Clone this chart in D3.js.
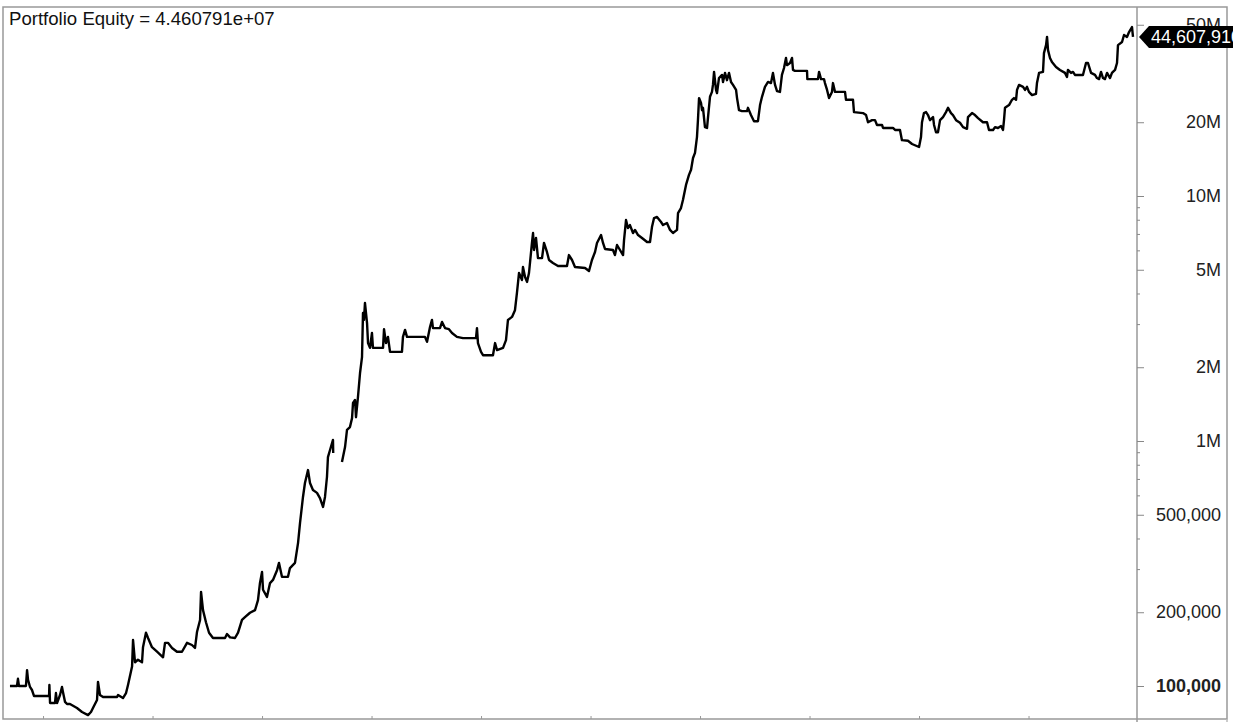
<!DOCTYPE html>
<html>
<head>
<meta charset="utf-8">
<script src="https://cdn.jsdelivr.net/npm/d3@7"></script>
<style>
  body { margin: 0; background: #fff; }
  text { font-family: "Liberation Sans", Arial, sans-serif; }
</style>
</head>
<body>
<script>
// equity curve: [decimal year, equity $]
var early = [
  [2009.698, 100000], [2009.762, 100000], [2009.771, 107000], [2009.780, 100000], [2009.844, 100000],
  [2009.854, 116000], [2009.863, 106000], [2009.881, 99100], [2009.899, 96300], [2009.918, 91000],
  [2010.055, 91000], [2010.058, 101000], [2010.064, 85200], [2010.109, 85200], [2010.118, 93600],
  [2010.128, 85200], [2010.155, 91900], [2010.173, 99100], [2010.182, 94500], [2010.201, 86100],
  [2010.219, 84400], [2010.246, 84400], [2010.310, 81300], [2010.356, 78300], [2010.411, 76100],
  [2010.438, 78300], [2010.456, 81300], [2010.493, 87700], [2010.502, 104000], [2010.520, 91900],
  [2010.548, 90200], [2010.676, 90200], [2010.685, 91900], [2010.730, 89300], [2010.758, 93600],
  [2010.776, 101000], [2010.813, 120000], [2010.822, 154000], [2010.840, 125000], [2010.867, 128000],
  [2010.904, 125000], [2010.913, 144000], [2010.940, 165000], [2010.959, 157000], [2010.995, 144000],
  [2011.041, 138000], [2011.096, 131000], [2011.114, 150000], [2011.141, 150000], [2011.178, 143000],
  [2011.223, 138000], [2011.269, 138000], [2011.315, 150000], [2011.360, 147000], [2011.388, 143000],
  [2011.406, 166000], [2011.434, 186000], [2011.443, 242000], [2011.461, 204000], [2011.488, 182000],
  [2011.516, 165000], [2011.552, 157000], [2011.662, 157000], [2011.680, 163000], [2011.708, 158000],
  [2011.753, 157000], [2011.781, 165000], [2011.817, 186000], [2011.844, 191000], [2011.890, 199000],
  [2011.936, 204000], [2011.963, 224000]
];

var breakout = [
  [2011.981, 263000], [2012.000, 292000], [2012.009, 247000], [2012.045, 231000], [2012.073, 263000],
  [2012.100, 271000], [2012.137, 297000], [2012.155, 318000], [2012.182, 279000], [2012.237, 279000],
  [2012.255, 303000], [2012.301, 318000], [2012.329, 384000], [2012.347, 463000], [2012.374, 591000],
  [2012.392, 674000], [2012.420, 761000], [2012.438, 674000], [2012.465, 631000], [2012.502, 614000],
  [2012.529, 585000], [2012.557, 538000], [2012.575, 591000], [2012.593, 713000], [2012.602, 860000],
  [2012.621, 919000], [2012.648, 1010000], [2012.650, 893000], [2012.690, null],
  [2012.730, 821000], [2012.758, 945000], [2012.776, 1110000], [2012.803, 1140000], [2012.822, 1240000],
  [2012.831, 1430000], [2012.849, 1470000], [2012.858, 1250000], [2012.876, 1510000], [2012.895, 1895000],
  [2012.913, 2200000], [2012.922, 3330000], [2012.931, 3120000], [2012.940, 3660000], [2012.959, 3030000],
  [2012.968, 2510000], [2012.986, 2400000], [2013.004, 2760000], [2013.013, 2400000]
];

var plateau = [
  [2013.105, 2400000], [2013.114, 2860000], [2013.132, 2510000], [2013.150, 2660000], [2013.169, 2310000],
  [2013.278, 2310000], [2013.287, 2660000], [2013.306, 2840000], [2013.324, 2660000], [2013.488, 2660000],
  [2013.507, 2540000], [2013.534, 2920000], [2013.552, 3120000], [2013.561, 2890000], [2013.625, 2890000],
  [2013.644, 3060000], [2013.671, 2890000], [2013.707, 2860000], [2013.735, 2760000], [2013.780, 2660000],
  [2013.835, 2630000], [2013.954, 2630000], [2013.963, 2890000], [2013.972, 2510000], [2014.000, 2310000],
  [2014.018, 2240000], [2014.109, 2240000], [2014.128, 2510000], [2014.146, 2350000], [2014.201, 2400000],
  [2014.228, 2580000], [2014.246, 3120000], [2014.283, 3210000], [2014.310, 3420000], [2014.328, 4020000],
  [2014.347, 4850000], [2014.374, 4540000], [2014.383, 5130000], [2014.402, 4670000], [2014.420, 4460000],
  [2014.438, 4850000], [2014.465, 6430000], [2014.475, 7060000], [2014.484, 6020000], [2014.502, 6740000],
  [2014.520, 5580000], [2014.557, 5580000], [2014.575, 6430000], [2014.602, 5910000], [2014.621, 5480000],
  [2014.657, 5330000], [2014.703, 5180000], [2014.785, 5180000], [2014.803, 5740000], [2014.831, 5480000],
  [2014.858, 5130000], [2014.950, 5080000], [2014.986, 4940000], [2015.013, 5480000], [2015.041, 5910000],
  [2015.059, 6430000], [2015.096, 6930000], [2015.114, 6430000], [2015.132, 6080000], [2015.205, 6020000],
  [2015.223, 5740000], [2015.242, 6310000], [2015.269, 6020000], [2015.297, 5740000], [2015.306, 6610000],
  [2015.324, 7980000], [2015.342, 7400000], [2015.360, 7610000], [2015.388, 7060000], [2015.406, 7270000],
  [2015.434, 6930000], [2015.470, 6740000], [2015.516, 6490000], [2015.543, 6490000], [2015.561, 7470000],
  [2015.580, 8130000], [2015.607, 8210000], [2015.644, 7830000], [2015.662, 7610000], [2015.698, 7760000],
  [2015.726, 7270000], [2015.753, 7060000], [2015.790, 7270000], [2015.799, 8520000], [2015.826, 8930000],
  [2015.844, 9630000]
];

var run = [
  [2015.872, 11100000], [2015.899, 12200000], [2015.918, 12800000], [2015.936, 14300000], [2015.954, 15000000],
  [2015.972, 17400000], [2015.981, 20400000], [2015.991, 25100000], [2016.009, 24000000], [2016.018, 22400000],
  [2016.027, 22900000], [2016.045, 19100000], [2016.064, 18950000], [2016.073, 21000000], [2016.091, 25400000],
  [2016.109, 26600000], [2016.118, 28400000], [2016.128, 32100000], [2016.146, 27100000], [2016.155, 26300000],
  [2016.173, 30300000], [2016.201, 31200000], [2016.210, 29200000], [2016.228, 31800000], [2016.246, 29700000],
  [2016.265, 31800000], [2016.283, 29200000], [2016.301, 28400000], [2016.329, 27100000], [2016.338, 25100000],
  [2016.356, 22400000], [2016.383, 22200000], [2016.429, 22200000], [2016.438, 22900000], [2016.465, 21400000],
  [2016.493, 20200000], [2016.529, 20200000], [2016.548, 23500000], [2016.566, 25400000], [2016.593, 27900000],
  [2016.621, 29200000], [2016.648, 28900000], [2016.666, 31800000], [2016.685, 28400000], [2016.703, 26800000],
  [2016.730, 26600000], [2016.748, 31200000], [2016.767, 33300000], [2016.785, 36600000], [2016.794, 34200000],
  [2016.822, 34900000], [2016.840, 36600000], [2016.849, 32700000], [2016.867, 32400000], [2016.977, 32400000],
  [2016.980, 30000000], [2017.077, 30000000], [2017.087, 32100000], [2017.105, 30000000], [2017.132, 30000000],
  [2017.141, 28900000], [2017.160, 27100000], [2017.178, 25100000], [2017.205, 26600000], [2017.214, 28900000],
  [2017.233, 26600000], [2017.324, 26600000], [2017.333, 24700000], [2017.397, 24700000], [2017.406, 22000000],
  [2017.488, 21800000], [2017.516, 21400000], [2017.534, 20000000], [2017.571, 20400000], [2017.598, 20400000],
  [2017.616, 19500000], [2017.662, 19500000], [2017.671, 18950000], [2017.762, 18950000], [2017.781, 18600000],
  [2017.826, 18600000], [2017.844, 16900000], [2017.899, 16800000], [2017.936, 16300000], [2018.000, 15850000]
];

var finish = [
  [2018.018, 17400000], [2018.027, 20000000], [2018.045, 21800000], [2018.064, 22000000], [2018.082, 21400000],
  [2018.100, 20400000], [2018.128, 21000000], [2018.137, 19500000], [2018.155, 18200000], [2018.173, 18200000],
  [2018.192, 20400000], [2018.219, 21000000], [2018.246, 22000000], [2018.265, 22900000], [2018.292, 21800000],
  [2018.310, 21400000], [2018.338, 20400000], [2018.374, 19900000], [2018.402, 19100000], [2018.438, 18800000],
  [2018.447, 21000000], [2018.484, 21800000], [2018.511, 21400000], [2018.539, 20800000], [2018.584, 20000000],
  [2018.621, 20000000], [2018.639, 18600000], [2018.676, 18600000], [2018.694, 19100000], [2018.721, 18950000],
  [2018.749, 19300000], [2018.767, 18600000], [2018.776, 20400000], [2018.785, 22900000], [2018.822, 23500000],
  [2018.849, 24700000], [2018.867, 25100000], [2018.886, 24700000], [2018.895, 27100000], [2018.913, 28400000],
  [2018.950, 27900000], [2018.968, 27100000], [2018.986, 27900000], [2019.004, 26600000], [2019.032, 25800000],
  [2019.068, 26100000], [2019.077, 28900000], [2019.096, 31800000], [2019.132, 32100000], [2019.141, 38300000],
  [2019.160, 41300000], [2019.169, 44600000], [2019.178, 39400000], [2019.196, 36600000], [2019.214, 35200000],
  [2019.251, 33600000], [2019.287, 32700000], [2019.333, 31800000], [2019.351, 30600000], [2019.360, 32700000],
  [2019.388, 31800000], [2019.406, 32100000], [2019.424, 31200000], [2019.497, 31200000], [2019.525, 34900000],
  [2019.543, 34900000], [2019.571, 31800000], [2019.607, 31200000], [2019.625, 30300000], [2019.644, 30000000],
  [2019.662, 32100000], [2019.680, 30300000], [2019.698, 30000000], [2019.717, 31800000], [2019.744, 30300000],
  [2019.762, 31800000], [2019.771, 32100000], [2019.790, 32700000], [2019.808, 34900000], [2019.817, 41300000],
  [2019.854, 42500000], [2019.872, 45400000], [2019.899, 44600000], [2019.918, 46700000], [2019.945, 48950000],
  [2019.954, 44607910]
];

var yearTicks = [2010, 2011, 2012, 2013, 2014, 2015, 2016, 2017, 2018, 2019];
var majorTicks = [100000, 200000, 500000, 1000000, 2000000, 5000000, 10000000, 20000000, 50000000];
var majorLabels = ['100,000', '200,000', '500,000', '1M', '2M', '5M', '10M', '20M', '50M'];

var equity = early.concat(breakout, plateau, run, finish);
var lastValue = equity[equity.length - 1][1];

var W = 1233, H = 722;
var plotL = 3, plotR = 1137, plotT = 7, plotB = 719, axisR = 1227;

var svg = d3.select('body').append('svg').attr('width', W).attr('height', H);
svg.append('rect').attr('width', W).attr('height', H).attr('fill', '#fff');

var x = d3.scaleLinear().domain([2009.607, 2019.9906]).range([0, plotR]);
var y = d3.scaleLog().domain([1e5, 1e7]).range([686, 196]);

// clip
svg.append('clipPath').attr('id', 'clip')
  .append('rect').attr('x', plotL).attr('y', plotT).attr('width', plotR - plotL).attr('height', plotB - plotT);

var line = d3.line()
  .defined(function(d) { return d[1] != null; })
  .x(function(d) { return x(d[0]); })
  .y(function(d) { return y(d[1]); });

svg.append('path')
  .datum(equity)
  .attr('clip-path', 'url(#clip)')
  .attr('d', line)
  .attr('fill', 'none')
  .attr('stroke', '#000')
  .attr('stroke-width', 2.4)
  .attr('stroke-linejoin', 'round');

// frame
svg.append('rect')
  .attr('x', plotL).attr('y', plotT)
  .attr('width', axisR - plotL).attr('height', plotB - plotT)
  .attr('fill', 'none').attr('stroke', '#999').attr('stroke-width', 1.5);
svg.append('line')
  .attr('x1', plotR).attr('x2', plotR).attr('y1', plotT).attr('y2', H)
  .attr('stroke', '#999').attr('stroke-width', 1.5);
svg.append('line')
  .attr('x1', axisR).attr('x2', axisR).attr('y1', plotB).attr('y2', H)
  .attr('stroke', '#bbb').attr('stroke-width', 1.5);

// x ticks (no labels)
var xAxis = svg.append('g').attr('transform', 'translate(0,' + plotB + ')')
  .call(d3.axisTop(x).tickValues(yearTicks).tickSize(3).tickFormat(''));
xAxis.select('.domain').remove();
xAxis.selectAll('line').attr('stroke', '#999');

// y ticks: minor then major
var minor = y.ticks().filter(function(v) {
  return majorTicks.indexOf(v) < 0 && y(v) > plotT && y(v) < plotB;
});
var yMinor = svg.append('g').attr('transform', 'translate(' + plotR + ',0)')
  .call(d3.axisRight(y).tickValues(minor).tickSize(3).tickFormat(''));
yMinor.select('.domain').remove();
yMinor.selectAll('line').attr('stroke', '#888');

var yMajor = svg.append('g').attr('transform', 'translate(' + plotR + ',0)')
  .call(d3.axisRight(y).tickValues(majorTicks).tickSize(7).tickFormat(''));
yMajor.select('.domain').remove();
yMajor.selectAll('line').attr('stroke', '#888');

svg.append('g').selectAll('text')
  .data(majorTicks)
  .enter().append('text')
  .attr('x', 1221)
  .attr('y', function(d) { return y(d) + 6; })
  .attr('text-anchor', 'end')
  .attr('font-size', 18)
  .attr('font-weight', function(d, i) { return i === 0 ? 'bold' : 'normal'; })
  .attr('fill', '#222')
  .text(function(d, i) { return majorLabels[i]; });

// last value tag
var ly = y(lastValue);
svg.append('path')
  .attr('d', 'M' + (plotR + 2) + ',' + ly + 'L' + (plotR + 12) + ',' + (ly - 11) +
    'L' + (W + 5) + ',' + (ly - 11) + 'L' + (W + 5) + ',' + (ly + 11) +
    'L' + (plotR + 12) + ',' + (ly + 11) + 'Z')
  .attr('fill', '#000');
svg.append('text')
  .attr('x', plotR + 14)
  .attr('y', ly + 6.5)
  .attr('font-size', 18)
  .attr('fill', '#fff')
  .text(d3.format(',')(lastValue));

// title
var expo = Math.floor(Math.log10(lastValue));
var mant = (lastValue / Math.pow(10, expo)).toFixed(6);
svg.append('text')
  .attr('x', 9)
  .attr('y', 25)
  .attr('font-size', 18.6)
  .attr('fill', '#111')
  .text('Portfolio Equity = ' + mant + 'e+' + (expo < 10 ? '0' : '') + expo);
</script>
</body>
</html>
